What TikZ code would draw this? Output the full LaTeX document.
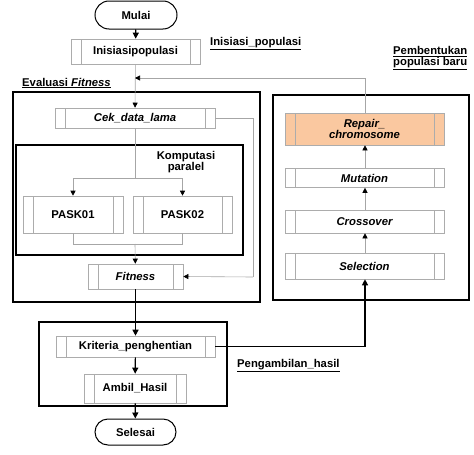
\documentclass[tikz,border=0pt]{standalone}
\usepackage{fontspec}
\setmainfont{Liberation Sans}
\usetikzlibrary{arrows.meta,shapes.misc}
\begin{document}
\begin{tikzpicture}[x=1pt,y=-1pt,
  every node/.style={font=\fontsize{11.3}{12}\selectfont\bfseries},
  proc/.style={draw=gray!65,line width=0.6pt,inner sep=0pt,align=center,
    path picture={
      \draw[gray!65,line width=0.6pt] ([xshift=10pt]path picture bounding box.north west) -- ([xshift=10pt]path picture bounding box.south west);
      \draw[gray!65,line width=0.6pt] ([xshift=-10pt]path picture bounding box.north east) -- ([xshift=-10pt]path picture bounding box.south east);}},
  term/.style={draw=black,line width=1pt,rounded rectangle,inner sep=0pt},
  cont/.style={draw=black,line width=1.2pt},
  lbl/.style={anchor=west,inner sep=0pt},
  thin/.style={draw=gray!70,line width=0.6pt,-{Triangle[width=5pt,length=5pt,black]}},
  thinline/.style={draw=gray!70,line width=0.6pt},
  thick/.style={draw=black,line width=1.2pt,-{Triangle[width=6pt,length=6pt]}},
  thickline/.style={draw=black,line width=1.2pt}]
\useasboundingbox (0,0) rectangle (474,455);
% containers
\draw[cont] (13,92) rectangle (260,302);
\draw[cont] (16,145) rectangle (243,255);
\draw[cont] (273,95) rectangle (469,300);
\draw[cont] (39,322) rectangle (227,406);
% nodes
\node[term,minimum width=82pt,minimum height=28pt] (mulai) at (136,15) {Mulai};
\node[proc,minimum width=129pt,minimum height=25pt] (ini) at (135.5,51.5) {Inisiasipopulasi};
\node[proc,minimum width=160pt,minimum height=20pt] (cek) at (135,118) {\itshape Cek\_data\_lama};
\node[proc,minimum width=100pt,minimum height=37pt] (p1) at (73,214.5) {PASK01};
\node[proc,minimum width=99pt,minimum height=37pt] (p2) at (182.5,214.5) {PASK02};
\node[proc,minimum width=95pt,minimum height=25pt] (fit) at (135.5,276.5) {\itshape Fitness};
\node[proc,minimum width=159pt,minimum height=21pt] (kri) at (135.5,346.5) {Kriteria\_penghentian};
\node[proc,minimum width=102pt,minimum height=29pt] (amb) at (135,388.5) {Ambil\_Hasil};
\node[term,minimum width=81pt,minimum height=26pt] (sel) at (135.5,432) {Selesai};
\node[proc,fill={rgb,255:red,250;green,200;blue,160},minimum width=159pt,minimum height=32pt,font=\fontsize{11.3}{11}\selectfont\bfseries\itshape] (rep) at (364.5,129) {Repair\_\\chromosome};
\node[proc,minimum width=159pt,minimum height=19pt] (mut) at (364.5,178) {\itshape Mutation};
\node[proc,minimum width=159pt,minimum height=23pt] (cro) at (364.5,221.5) {\itshape Crossover};
\node[proc,minimum width=159pt,minimum height=26pt] (seln) at (364.5,266) {\itshape Selection};
% labels
\node[lbl] (l1) at (210,44) {\underline{Inisiasi\_populasi}};
\node[lbl,align=left,font=\fontsize{11.3}{10.5}\selectfont\bfseries] (l2) at (393,58) {\underline{Pembentukan}\\\underline{populasi baru}};
\node[lbl] (l3) at (22,83) {\underline{Evaluasi \itshape Fitness}};
\node[align=center,inner sep=0pt,font=\fontsize{11.3}{10.5}\selectfont\bfseries] (l4) at (186,162) {Komputasi\\paralel};
\node[lbl] (l5) at (237,366) {\underline{Pengambilan\_hasil}};
% coordinates
\coordinate (loopR) at (365,78);
\coordinate (loopL) at (135,78);
\coordinate (split) at (135,178);
\coordinate (join) at (135,244);
\coordinate (cekR) at (253,118);
\coordinate (cekRB) at (253,277);
\coordinate (kriR) at (365,346.5);
% connectors
\draw[thick] (mulai) -- (ini);
\draw[thin] (ini) -- (cek);
\draw[thinline] (rep.north -| loopR) -- (loopR);
\draw[thin] (loopR) -- (loopL);
\draw[thinline] (cek) -- (split);
\draw[thin] (split) -| (p1.north);
\draw[thin] (split) -| (p2.north);
\draw[thinline] (p1.south) |- (join);
\draw[thinline] (p2.south) |- (join);
\draw[thin] (join) -- (fit);
\draw[thinline] (cek.east) -- (cekR) -- (cekRB);
\draw[thin] (cekRB) -- (fit.east);
\draw[thick] (fit) -- (kri);
\draw[thick] (kri) -- (amb);
\draw[thick] (amb) -- (sel);
\draw[thickline] (kri.east) -- (kriR);
\draw[thick] (kriR) -- (seln.south -| kriR);
\draw[thin] (seln.north -| kriR) -- (cro.south -| kriR);
\draw[thin] (cro.north -| kriR) -- (mut.south -| kriR);
\draw[thin] (mut.north -| kriR) -- (rep.south -| kriR);
\end{tikzpicture}
\end{document}
